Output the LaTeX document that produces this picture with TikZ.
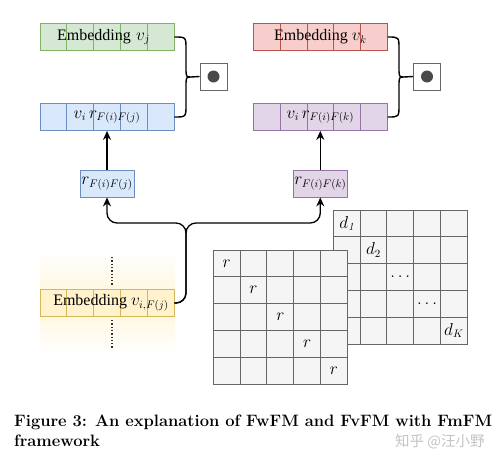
\documentclass[tikz,border=0pt]{standalone}
\usepackage{fontspec}
\newfontfamily\tnr{Liberation Serif}
\newfontfamily\cjk{Noto Sans CJK SC}
\usetikzlibrary{arrows.meta}
\definecolor{gfill}{HTML}{D5E8D4}\definecolor{gline}{HTML}{82B366}
\definecolor{pfill}{HTML}{F8CECC}\definecolor{pline}{HTML}{B85450}
\definecolor{bfill}{HTML}{DAE8FC}\definecolor{bline}{HTML}{6C8EBF}
\definecolor{vfill}{HTML}{E1D5E7}\definecolor{vline}{HTML}{9673A6}
\definecolor{yfill}{HTML}{FFF2CC}\definecolor{yline}{HTML}{D6B656}
\definecolor{glow}{HTML}{FFF5D8}
\definecolor{mfill}{HTML}{F5F5F5}\definecolor{mline}{HTML}{666666}
\definecolor{dotc}{HTML}{4A4A4A}
\definecolor{wm}{HTML}{C4C4C4}
\tikzset{
  dfont/.style={font=\tnr\fontsize{16}{19}\selectfont},
  row/.style={draw=#1, line width=0.8pt, minimum width=134pt, minimum height=27pt, inner sep=0pt, dfont,
    path picture={\foreach \i in {1,2,3,4}{\draw[#1, line width=0.8pt]
      ([xshift=\i*26.8pt]path picture bounding box.north west) --
      ([xshift=\i*26.8pt]path picture bounding box.south west);}}},
  sbox/.style={draw=#1, line width=0.8pt, minimum width=54pt, minimum height=27pt, inner sep=0pt, dfont},
  dotbox/.style={draw=mline, fill=white, line width=1pt, minimum width=27pt, minimum height=27pt, inner sep=0pt},
  cell/.style={draw=mline, fill=mfill, line width=1pt},
  br/.style={line width=1.4pt, black},
  arr/.style={line width=1.3pt, black, -{Stealth[length=9pt,width=8pt]}},
  dots/.style={line width=1.3pt, dotted, black!80},
}
\begin{document}
\begin{tikzpicture}[x=1pt,y=-1pt]
\useasboundingbox[fill=white] (0,0) rectangle (501,466);
% glow
\shade[top color=white, bottom color=glow] (40,250) rectangle (175,303);
\shade[top color=glow, bottom color=white] (40,303) rectangle (175,354);
% rows
\node[row=gline, fill=gfill, text width=134pt, align=center] (gj) at (107,37) {\hspace*{-7pt}Embedding $v_j$};
\node[row=bline, fill=bfill] (bi) at (107,117) {$v_i\, r_{F(i)F(j)}$};
\node[row=pline, fill=pfill] (pk) at (320.3,37) {Embedding $v_k$};
\node[row=vline, fill=vfill] (vi) at (320.3,117) {$v_i\, r_{F(i)F(k)}$};
\node[row=yline, fill=yfill] (ye) at (107,303) {};
\node[dfont, anchor=center] (yet) at (111,303) {Embedding $v_{i,F(j)}$};
% small boxes
\node[sbox=bline, fill=bfill] (sb) at (107,183.5) {$r_{F(i)F(j)}$};
\node[sbox=vline, fill=vfill] (sv) at (320.3,183.5) {$r_{F(i)F(k)}$};
% dot boxes
\node[dotbox] (d1) at (213.5,76.5) {};
\fill[dotc] (d1.center) circle (6pt);
\node[dotbox] (d2) at (427,76.5) {};
\fill[dotc] (d2.center) circle (6pt);
% braces
\draw[br] (gj.east) .. controls (186,37) .. (186,49) -- (186,67) .. controls (186,77) .. (191,77)
          .. controls (186,77) .. (186,87) -- (186,105) .. controls (186,117) .. (bi.east);
\draw[br] (191,77) -- (d1.west);
\draw[br] (pk.east) .. controls (399,37) .. (399,49) -- (399,67) .. controls (399,77) .. (404,77)
          .. controls (399,77) .. (399,87) -- (399,105) .. controls (399,117) .. (vi.east);
\draw[br] (404,77) -- (d2.west);
% arrows
\draw[arr] (sb.north) -- (bi.south);
\draw[arr] (sv.north) -- (vi.south);
\draw[arr, rounded corners=10pt] (ye.east) -| (186,223) -| (sb.south);
\draw[arr, rounded corners=10pt] (ye.east) -| (186,223) -| (sv.south);
% dotted lines
\coordinate (t1) at (112,257); \coordinate (t2) at (112,286);
\coordinate (t3) at (112,320); \coordinate (t4) at (112,349);
\draw[dots] (t1) -- (t2);
\draw[dots] (t3) -- (t4);
% back matrix
\foreach \i in {0,...,4}{\foreach \j in {0,...,4}{
  \draw[cell] (333.3+\i*26.8,210+\j*26.8) rectangle ++(26.8,26.8);}}
\node[dfont] (m1) at (333.3+0.5*26.8,210+0.5*26.8) {$d_{\mathit{1}}$};
\node[dfont] (m2) at (333.3+1.5*26.8,210+1.5*26.8) {$d_2$};
\node[dfont] (m3) at (333.3+2.5*26.8,210+2.5*26.8) {$\dots$};
\node[dfont] (m4) at (333.3+3.5*26.8,210+3.5*26.8) {$\dots$};
\node[dfont] (m5) at (333.3+4.5*26.8,210+4.5*26.8) {$d_K$};
% front matrix
\foreach \i in {0,...,4}{\foreach \j in {0,...,4}{
  \draw[cell] (213.3+\i*26.8,250+\j*26.8) rectangle ++(26.8,26.8);}}
\foreach \k in {0,...,4}{
  \node[dfont] (r\k) at (213.3+\k*26.8+13.4,250+\k*26.8+13.4) {$r$};}
% caption
\node[anchor=base west, inner sep=0pt, font=\bfseries\fontsize{16.5}{20}\selectfont] (cap1) at (14,426)
  {\makebox[478pt][s]{Figure 3: An explanation of FwFM and FvFM with FmFM}};
\node[anchor=base west, inner sep=0pt, font=\bfseries\fontsize{16.5}{20}\selectfont] (cap2) at (14,446.5) {framework};
\node[anchor=base west, inner sep=0pt, text=wm, font=\cjk\fontsize{14.5}{17}\selectfont] (wmk) at (395,446) {知乎 @汪小野};
\end{tikzpicture}
\end{document}
